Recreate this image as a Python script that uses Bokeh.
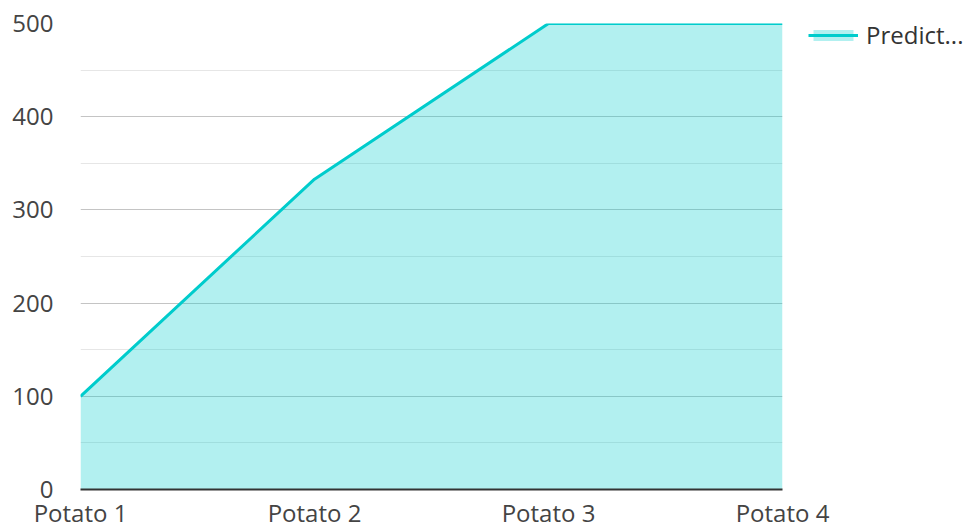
from bokeh.plotting import figure
from bokeh.models import Range1d, FixedTicker, Legend, LegendItem, ColumnDataSource
from bokeh.embed import file_html
from bokeh.resources import INLINE

categories = ["Potato 1", "Potato 2", "Potato 3", "Potato 4"]
predicted = [100, 333, 500, 500]
y_ticks = [0, 100, 200, 300, 400, 500]
y_minor = [50, 150, 250, 350, 450]
series_name = "Predict..."

xs = list(range(len(categories)))
src = ColumnDataSource(dict(x=xs, y=predicted, base=[0] * len(xs)))

p = figure(frame_width=702, frame_height=466, output_backend="svg", toolbar_location=None,
           x_range=Range1d(0, len(categories) - 1), y_range=Range1d(0, 500),
           min_border_left=80, min_border_top=23, min_border_bottom=40, min_border_right=180,
           background_fill_color="white", border_fill_color="white")
p.outline_line_color = None

area = p.varea(x="x", y1="base", y2="y", source=src, fill_color="#00cccc", fill_alpha=0.3)
line = p.line(x="x", y="y", source=src, line_color="#00cccc", line_width=3)

p.xaxis.ticker = FixedTicker(ticks=xs)
p.xaxis.major_label_overrides = {i: c for i, c in enumerate(categories)}
p.yaxis.ticker = FixedTicker(ticks=y_ticks, minor_ticks=y_minor)

for ax in (p.xaxis, p.yaxis):
    ax.major_tick_line_color = None
    ax.minor_tick_line_color = None
    ax.major_label_text_font = "Open Sans"
    ax.major_label_text_font_size = "24px"
    ax.major_label_text_color = "#444444"
p.yaxis.axis_line_color = None
p.yaxis.major_label_standoff = 21
p.xaxis.axis_line_color = "#333333"
p.xaxis.axis_line_width = 2
p.xaxis.major_label_standoff = 0

p.xgrid.grid_line_color = None
p.ygrid.grid_line_color = "#c4c4c4"
p.ygrid.grid_line_width = 1.2
p.ygrid.minor_grid_line_color = "#e6e6e6"
p.ygrid.minor_grid_line_width = 1

legend = Legend(items=[LegendItem(label=series_name, renderers=[area, line])],
                location="top_left", border_line_color=None, background_fill_alpha=0,
                label_text_font="Open Sans", label_text_font_size="24px",
                label_text_color="#333333", glyph_width=50, glyph_height=14,
                label_standoff=8, padding=0, margin=0)
p.add_layout(legend, "right")
legend.location = (26, 438)

open("out.html", "w").write(file_html(p, INLINE))
